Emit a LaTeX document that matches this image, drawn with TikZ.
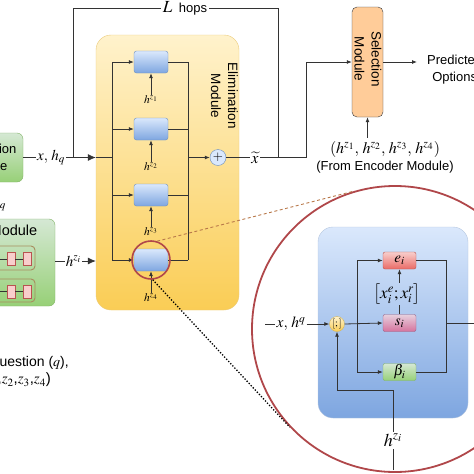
\documentclass[tikz,border=0pt]{standalone}
\usepackage{mathptmx}
\usepackage[no-math]{fontspec}
\setmainfont{Liberation Sans}
\usetikzlibrary{arrows.meta,shapes.geometric}
\definecolor{lc}{HTML}{333333}
\definecolor{yelT}{HTML}{FFF2CC}
\definecolor{yelB}{HTML}{FACD55}
\definecolor{yelS}{HTML}{EBCB7A}
\definecolor{blueT}{HTML}{DAE8FC}
\definecolor{blueB}{HTML}{7EA6E0}
\definecolor{blueS}{HTML}{6C8EBF}
\definecolor{greenT}{HTML}{D5E8D4}
\definecolor{greenB}{HTML}{97D077}
\definecolor{greenS}{HTML}{82B366}
\definecolor{redT}{HTML}{F8CECC}
\definecolor{redB}{HTML}{EA6B66}
\definecolor{redS}{HTML}{B85450}
\definecolor{pinkT}{HTML}{E6D0DE}
\definecolor{pinkB}{HTML}{D5739D}
\definecolor{pinkS}{HTML}{996185}
\definecolor{catS}{HTML}{D6B656}
\definecolor{selF}{HTML}{FFCC99}
\definecolor{selS}{HTML}{36393D}
\definecolor{ringC}{HTML}{B0474A}
\definecolor{dashC}{HTML}{B8784A}
\definecolor{brownS}{HTML}{A88C5E}
\begin{document}
\begin{tikzpicture}[x=1pt,y=-1pt,
  ln/.style={draw=lc, line width=0.8pt},
  ar/.style={ln, -{Latex[length=5pt,width=4pt]}},
  bigar/.style={ln, -{Latex[length=8pt,width=7pt]}},
  sans/.style={font=\fontsize{13}{17}\selectfont},
  vsans/.style={font=\fontsize{13.5}{17}\selectfont, rotate=-90, align=center},
  gbox/.style={draw=greenS, top color=greenT, bottom color=greenB, rounded corners=6pt},
  cell/.style={draw=blueS, top color=blueT, bottom color=blueB, rounded corners=2.5pt, minimum width=34pt, minimum height=22pt, inner sep=0pt},
  hl/.style={font=\fontsize{11.5}{12}\selectfont, inner sep=1pt},
  small/.style={minimum width=33pt, minimum height=17pt, rounded corners=2pt, inner sep=0pt, font=\fontsize{15}{15}\selectfont},
  ring/.style={circle, draw=ringC, inner sep=0pt},
  dashln/.style={draw=dashC, line width=0.9pt, dash pattern=on 3pt off 2.5pt},
  dotln/.style={draw=black, line width=1.3pt, dash pattern=on 1.3pt off 1.7pt}]
\useasboundingbox (0,0) rectangle (474,474);
\clip (0,0) rectangle (474,474);

% left modules
\node[gbox, minimum width=74pt, minimum height=49pt, sans, align=center] (inter) at (-14,157.5) {Interaction\\Module};
\node[anchor=east, font=\fontsize{15}{15}\selectfont, inner sep=0pt] (qlab) at (6,203) {$h_q$};
\node[gbox, minimum width=120pt, minimum height=87pt] (encm) at (-5,262.5) {};
\node[anchor=east, inner sep=0pt, font=\fontsize{14.5}{17}\selectfont] (enct) at (37.5,230) {Encoder Module};
\node[draw=brownS, line width=0.9pt, rounded corners=4pt, minimum width=60pt, minimum height=24pt] (r1) at (5,258) {};
\node[draw=brownS, line width=0.9pt, rounded corners=4pt, minimum width=60pt, minimum height=23pt] (r2) at (5,290.5) {};
\node[draw=redS, fill=redT, minimum width=8pt, minimum height=13pt, inner sep=0pt] (p11) at (11,259) {};
\node[draw=redS, fill=redT, minimum width=8pt, minimum height=13pt, inner sep=0pt] (p12) at (27.5,259) {};
\node[draw=redS, fill=redT, minimum width=8pt, minimum height=13pt, inner sep=0pt] (p21) at (11,291.5) {};
\node[draw=redS, fill=redT, minimum width=8pt, minimum height=13pt, inner sep=0pt] (p22) at (27.5,291.5) {};
\draw[ln] (r1.west |- p11.west) -- (p11.west);
\draw[ln] (p11.east) -- (p12.west);
\draw[ln] (r2.west |- p21.west) -- (p21.west);
\draw[ln] (p21.east) -- (p22.west);

\node[anchor=east, inner sep=0pt, font=\fontsize{14}{17}\selectfont] (d1) at (69,363) {Passage ($p$), question ($q$),};
\node[anchor=east, inner sep=0pt, font=\fontsize{15}{17}\selectfont] (d2) at (51,380) {options ($z_1$,$z_2$,$z_3$,$z_4$)};

% elimination module
\node[draw=yelS, top color=yelT, bottom color=yelB, rounded corners=15pt, minimum width=143pt, minimum height=275pt] (elim) at (167.5,172.5) {};
\node[vsans] (elimt) at (224.5,96) {Elimination\\Module};

\node[cell] (c1) at (151,62) {};
\node[cell] (c2) at (151,129) {};
\node[cell] (c3) at (151,195) {};
\node[cell] (c4) at (151,260) {};
\node[hl] (h1) at (151,100) {$h^{z_1}$};
\node[hl] (h2) at (151,167) {$h^{z_2}$};
\node[hl] (h3) at (151,232) {$h^{z_3}$};
\node[hl] (h4) at (151,298) {$h^{z_4}$};
\foreach \i in {1,2,3,4}{\draw[ar] (h\i.north) -- (c\i.south);}

\coordinate (lt) at (112,62);
\coordinate (lb) at (112,260);
\coordinate (rt) at (188,62);
\coordinate (rb) at (188,260);
\draw[ln] (lt) -- (lb);
\draw[ln] (rt) -- (rb);
\foreach \i in {1,2,3,4}{
  \draw[ar] (lt |- c\i.west) -- (c\i.west);
  \draw[ln] (c\i.east) -- (rt |- c\i.east);
}
\node[circle, draw=blueS, fill=blueT, minimum size=16pt, inner sep=0pt, font=\fontsize{13}{13}\selectfont] (plus) at (218,157.5) {$+$};
\draw[ar] (rt |- plus.west) -- (plus.west);

% input to elimination
\node[font=\fontsize{15}{15}\selectfont, inner sep=1pt] (xhq) at (51,157.5) {$x,\,h_q$};
\coordinate (jl) at (73,157.5);
\draw[ln] (inter.east) -- (xhq.west);
\draw[bigar] (xhq.east) -- (elim.west |- xhq.east);
\draw[ln] (elim.west |- xhq.east) -- (lt |- xhq.east);

\node[font=\fontsize{15}{15}\selectfont, inner sep=1pt] (hzl) at (73.5,261) {$h^{z_i}$};
\draw[ln] (encm.east |- hzl.west) -- (hzl.west);
\draw[bigar] (hzl.east) -- (elim.west |- hzl.east);

% output and loop
\node[font=\fontsize{16}{16}\selectfont, inner sep=1pt] (xt) at (255,157.5) {$\widetilde{x}$};
\draw[ln] (plus.east) -- (xt.west);
\coordinate (jr) at (278,157.5);
\coordinate (k1) at (306,157.5);
\node[sans, fill=white, inner sep=2pt] (hops) at (185,8) {{\fontsize{17}{17}\selectfont$L$}\enspace hops};
\draw[ln] (jl) |- (hops.west);
\draw[ln] (hops.east) -| (jr);

% selection
\node[draw=selS, fill=selF, rounded corners=5pt, minimum width=31pt, minimum height=110pt] (sel) at (367.5,62) {};
\node[vsans] (selt) at (368,59) {Selection\\Module};
\draw[ln] (xt.east) -- (k1);
\draw[ar] (k1) |- (sel.west);
\coordinate (po) at (417,62);
\draw[ar] (sel.east) -- (po);
\node[sans, align=center, anchor=west, inner sep=0pt] (pred) at (427,70) {Predicted\\Options};
\node[sans, align=center] (enc) at (385,157) {{\fontsize{16}{16}\selectfont$(h^{z_1},\,h^{z_2},\,h^{z_3},\,h^{z_4})$}\\(From Encoder Module)};
\draw[ar] (sel.south |- enc.north) -- (sel.south);

% zoom rings
\node[ring, line width=1.6pt, minimum size=38pt] (zc) at (151,260) {};
\node[ring, line width=1.8pt, minimum size=286pt] (bigc) at (395,329) {};
\draw[dashln] (zc.72) -- (bigc.107);
\draw[dotln] (zc.-85) -- (bigc.-137);

% detail
\node[draw=blueS!50, top color=blueT, bottom color=blueB, rounded corners=15pt, minimum width=150pt, minimum height=191pt] (detail) at (393,322.5) {};
\node[small, draw=redS, top color=redT, bottom color=redB] (ei) at (399.5,260.5) {$e_i$};
\node[small, draw=pinkS, top color=pinkT, bottom color=pinkB] (si) at (399.5,323) {$s_i$};
\node[small, draw=greenS, top color=greenT, bottom color=greenB] (bi) at (399.5,372) {$\beta_i$};
\node[circle, draw=catS, top color=yelT, bottom color=yelB, minimum size=15pt, inner sep=0pt, font=\fontsize{10}{10}\selectfont] (cc) at (337,324) {$[;]$};
\node[font=\fontsize{15.5}{16}\selectfont, inner sep=1pt] (xhq2) at (291,324) {$x,\,h^q$};
\coordinate (in2) at (265,324);
\draw[ln] (in2) -- (xhq2.west);
\draw[ar] (xhq2.east) -- (cc.west);
\draw[ar] (cc.east) -- (si.west);
\coordinate (vt) at (357,260.5);
\coordinate (vb) at (357,372);
\draw[ln] (vt) -- (vb);
\draw[ar] (vt) -- (ei.west);
\draw[ar] (vb) -- (bi.west);
\node[font=\fontsize{17}{17}\selectfont, inner sep=1pt] (xer) at (397,294) {$\big[x_i^e;x_i^r\big]$};
\draw[ln] (si.north) -- (si.north |- xer.south);
\draw[ar] (ei.south |- xer.north) -- (ei.south);
\coordinate (wt) at (446,260.5);
\coordinate (wb) at (446,372);
\coordinate (wm) at (446,323);
\coordinate (out) at (480,323);
\draw[ln] (ei.east) -- (wt) -- (wb) -- (bi.east);
\draw[ln] (wm) -- (out);
\node[font=\fontsize{18}{18}\selectfont, inner sep=2pt] (hzi) at (393,440) {$h^{z_i}$};
\coordinate (bot) at (393,470);
\coordinate (k2) at (393,390);
\draw[ln] (bot) -- (hzi.south);
\draw[ar] (hzi.north) -- (k2) -| (cc.south);
\end{tikzpicture}
\end{document}
